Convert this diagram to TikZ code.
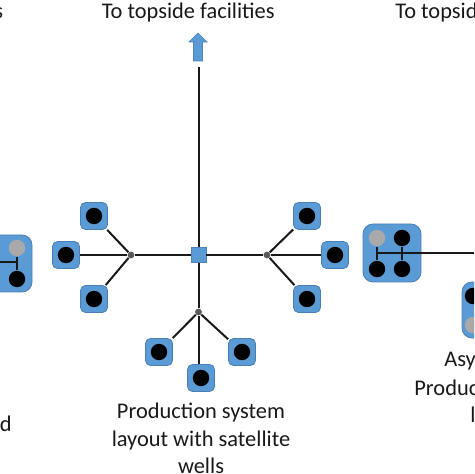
\documentclass[tikz,border=0pt]{standalone}
\usepackage{fontspec}
\setmainfont{Carlito}
\definecolor{wellblue}{HTML}{5B9BD5}
\definecolor{welledge}{HTML}{4A7FB5}
\definecolor{hubgrey}{HTML}{595959}
\definecolor{inactive}{HTML}{A9A9A9}
\tikzset{
 x=0.5pt,y=-0.5pt,
 pipe/.style={draw=black!90,line width=1pt},
 wellbox/.style={draw=welledge,line width=0.4pt,fill=wellblue,rounded corners=2.5pt,minimum size=13.5pt,inner sep=0pt},
 bigbox/.style={draw=welledge,line width=0.4pt,fill=wellblue,rounded corners=5pt,inner sep=0pt},
 wellblack/.style={circle,fill=black,minimum size=8.2pt,inner sep=0pt},
 wellgrey/.style={circle,fill=inactive,minimum size=8.2pt,inner sep=0pt},
 hub/.style={circle,fill=hubgrey,minimum size=3.4pt,inner sep=0pt},
 manifold/.style={draw=wellblue!85!black,line width=0.3pt,fill=wellblue,minimum size=7.5pt,inner sep=0pt},
 label/.style={font=\fontsize{11.2}{13.7}\selectfont,inner sep=0pt,align=center,text=black!90},
}
\begin{document}
\begin{tikzpicture}
\useasboundingbox (0,0) rectangle (474,474);
\clip (0,0) rectangle (474,474);
% texts
\node[label,anchor=base east] (t1) at (275,19) {To topside facilities};
\node[label,anchor=base east] (t2) at (3.5,19) {s};
\node[label,anchor=base west] (t3) at (395,19) {To topsid};
\node[label,anchor=east] (t4) at (12,424) {d};
\node[label] (t5) at (201,438.5) {Production system\\layout with satellite\\wells};
\node[label,anchor=west] (t6) at (444,361) {Asy};
\node[label,anchor=west] (t7) at (414,388) {Produc};
\node[label,anchor=west] (t8) at (470,415) {l};
% boxes
\node[wellbox] (w1) at (94,216) {};
\node[wellbox] (w2) at (66,255) {};
\node[wellbox] (w3) at (94,299) {};
\node[wellbox] (w4) at (307,216) {};
\node[wellbox] (w5) at (335,255) {};
\node[wellbox] (w6) at (307,299) {};
\node[wellbox] (w7) at (159,352) {};
\node[wellbox] (w8) at (201,378) {};
\node[wellbox] (w9) at (242,352) {};
\foreach \n in {1,...,9}{\node[wellblack] (c\n) at (w\n) {};}
\node[manifold] (m) at (198.5,255) {};
\node[hub] (h1) at (131,255) {};
\node[hub] (h2) at (267,255) {};
\node[hub] (h3) at (198.5,312) {};
\filldraw[fill=wellblue,draw=wellblue!85!black,line width=0.3pt]
  (198,33) -- (207,42) -- (202.5,42) -- (202.5,61) -- (193.5,61) -- (193.5,42) -- (189,42) -- cycle;
\coordinate (top) at (198.5,67);
% connectors
\draw[pipe] (top) -- (m);
\draw[pipe] (m) -- (h3);
\draw[pipe] (m) -- (h1);
\draw[pipe] (m) -- (h2);
\draw[pipe] (h1) -- (w1);
\draw[pipe] (h1) -- (w2);
\draw[pipe] (h1) -- (w3);
\draw[pipe] (h2) -- (w4);
\draw[pipe] (h2) -- (w5);
\draw[pipe] (h2) -- (w6);
\draw[pipe] (h3) -- (w7);
\draw[pipe] (h3) -- (w8.north -| h3);
\draw[pipe] (h3) -- (w9);
% left template
\node[bigbox,minimum width=28pt,minimum height=28.5pt] (bl) at (4,263.5) {};
\node[wellgrey] (la) at (17,248) {};
\node[wellblack] (lb) at (17,279) {};
\coordinate (le) at (0,262);
\draw[pipe] (la) -- (lb);
\draw[pipe] (le) -- (le -| la);
% right template
\node[bigbox,minimum width=29pt,minimum height=29pt] (br) at (392,253) {};
\node[wellgrey] (ra) at (377,238) {};
\node[wellblack] (rb) at (402,238) {};
\node[wellblack] (rc) at (377,269) {};
\node[wellblack] (rd) at (402,269) {};
\coordinate (re) at (474,253);
\draw[pipe] (ra) -- (rc);
\draw[pipe] (rb) -- (rd);
\draw[pipe] (re) -- (re -| ra);
% lower right template
\node[bigbox,minimum width=28pt,minimum height=28pt] (bs) at (490,310) {};
\node[wellblack] (sa) at (473,296) {};
\node[wellgrey] (sb) at (473,325) {};
\end{tikzpicture}
\end{document}
